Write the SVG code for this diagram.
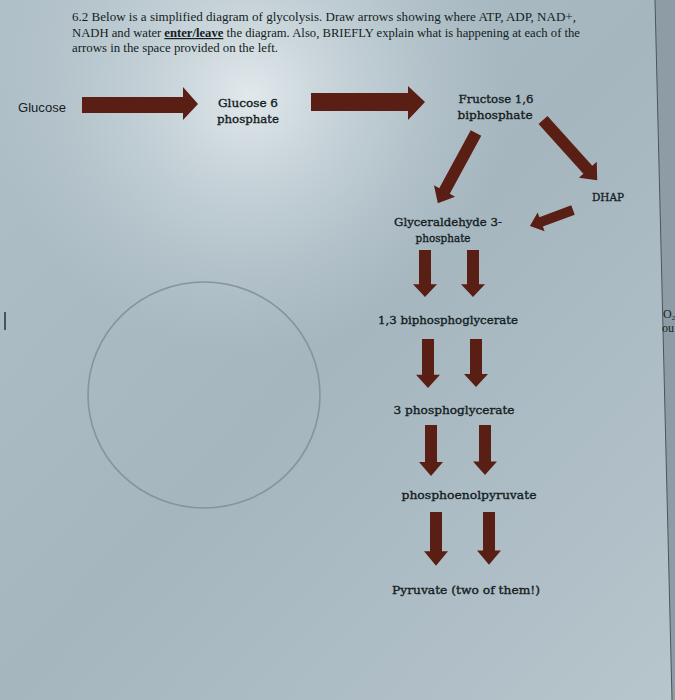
<svg xmlns="http://www.w3.org/2000/svg" width="675" height="700" viewBox="0 0 675 700">
<defs>
<linearGradient id="bg" x1="0" y1="0" x2="1" y2="1">
<stop offset="0" stop-color="#b0c0c8"/>
<stop offset="0.5" stop-color="#a5b6bf"/>
<stop offset="1" stop-color="#b7c5cc"/>
</linearGradient>
<radialGradient id="hl" cx="250" cy="95" r="260" gradientUnits="userSpaceOnUse">
<stop offset="0" stop-color="#e4ebee" stop-opacity="0.95"/>
<stop offset="0.5" stop-color="#d0dbe0" stop-opacity="0.5"/>
<stop offset="1" stop-color="#c0ccd2" stop-opacity="0"/>
</radialGradient>
<path id="down" d="M-6,0 H6 V35 H12 L0,48 L-12,35 H-6 Z"/>
<style>
.t{font-family:"Liberation Serif","DejaVu Serif",serif;font-size:12px;fill:#141d22}
.n{font-family:"DejaVu Serif",serif;font-size:11.5px;fill:#141d22;stroke:#141d22;stroke-width:0.35}
.s{font-family:"Liberation Sans",Arial,sans-serif;font-size:12px;fill:#141d22}
.a{fill:#5a1f14}
</style>
</defs>
<rect width="675" height="700" fill="url(#bg)"/>
<rect width="675" height="700" fill="url(#hl)"/>
<path d="M655,0 L672,700 L675,700 L675,0 Z" fill="#8e9da5"/>
<line x1="655" y1="0" x2="672" y2="700" stroke="#4a565c" stroke-width="1"/>
<text class="t" x="663" y="318" font-size="10">O<tspan font-size="7" dy="2">2</tspan></text>
<text class="t" x="662" y="332" font-size="10">ou</text>
<line x1="5" y1="312" x2="5" y2="330" stroke="#2a3338" stroke-width="1.5"/>

<g id="instructions">
<text class="t" x="72" y="21" textLength="504" lengthAdjust="spacingAndGlyphs">6.2 Below is a simplified diagram of glycolysis.  Draw arrows showing where ATP, ADP, NAD+,</text>
<text class="t" x="72" y="37" textLength="508" lengthAdjust="spacingAndGlyphs">NADH and water <tspan font-weight="bold" text-decoration="underline">enter/leave</tspan> the diagram.  Also, BRIEFLY explain what is happening at each of the</text>
<text class="t" x="72" y="52" textLength="206" lengthAdjust="spacingAndGlyphs">arrows in the space provided on the left.</text>
</g>

<g id="explain-circle">
<ellipse cx="204" cy="395" rx="116" ry="113" fill="none" stroke="#8395a0" stroke-width="1.6"/>
</g>

<g id="glucose"><text class="s" x="18" y="112" textLength="48" lengthAdjust="spacingAndGlyphs">Glucose</text></g>
<g id="glucose6p">
<text class="n" x="248" y="107" text-anchor="middle" textLength="60" lengthAdjust="spacingAndGlyphs">Glucose 6</text>
<text class="n" x="248" y="123" text-anchor="middle" textLength="62" lengthAdjust="spacingAndGlyphs">phosphate</text>
</g>
<g id="fructose16bp">
<text class="n" x="496" y="103" text-anchor="middle" textLength="75" lengthAdjust="spacingAndGlyphs">Fructose 1,6</text>
<text class="n" x="495" y="119" text-anchor="middle" textLength="75" lengthAdjust="spacingAndGlyphs">biphosphate</text>
</g>
<g id="dhap"><text class="n" x="608" y="201" text-anchor="middle" textLength="32" lengthAdjust="spacingAndGlyphs">DHAP</text></g>
<g id="g3p">
<text class="n" x="448" y="226" text-anchor="middle" textLength="108" lengthAdjust="spacingAndGlyphs">Glyceraldehyde 3-</text>
<text class="n" x="443" y="242" text-anchor="middle" textLength="55" lengthAdjust="spacingAndGlyphs">phosphate</text>
</g>
<g id="bpg13"><text class="n" x="448" y="324" text-anchor="middle" textLength="140" lengthAdjust="spacingAndGlyphs">1,3 biphosphoglycerate</text></g>
<g id="pg3"><text class="n" x="454" y="414" text-anchor="middle" textLength="121" lengthAdjust="spacingAndGlyphs">3 phosphoglycerate</text></g>
<g id="pep"><text class="n" x="469" y="499" text-anchor="middle" textLength="135" lengthAdjust="spacingAndGlyphs">phosphoenolpyruvate</text></g>
<g id="pyruvate"><text class="n" x="466" y="594" text-anchor="middle" textLength="148" lengthAdjust="spacingAndGlyphs">Pyruvate (two of them!)</text></g>

<g id="connectors" class="a">
<path d="M82,97 H183 V87 L198,104 L183,120 V113 H82 Z"/>
<path d="M311,93 H408 V86 L425,102 L408,120 V111 H311 Z"/>
<path transform="translate(476,133) rotate(118.5)" d="M0,-6 H66 V-12 L80,0 L66,12 V6 H0 Z"/>
<path transform="translate(543,120) rotate(48)" d="M0,-6 H67 V-12 L81,0 L67,12 V6 H0 Z"/>
<path transform="translate(573,210) rotate(159.6)" d="M0,-5 H34 V-10 L46,0 L34,10 V5 H0 Z"/>
<use href="#down" transform="translate(425,250) scale(1,0.98)"/>
<use href="#down" transform="translate(473,250) scale(1,0.98)"/>
<use href="#down" transform="translate(428,339) scale(1,1.02)"/>
<use href="#down" transform="translate(476,339) scale(1,1.0)"/>
<use href="#down" transform="translate(431,425) scale(1,1.06)"/>
<use href="#down" transform="translate(485,425) scale(1,1.04)"/>
<use href="#down" transform="translate(436,512) scale(1,1.12)"/>
<use href="#down" transform="translate(489,512) scale(1,1.1)"/>
</g>
</svg>
